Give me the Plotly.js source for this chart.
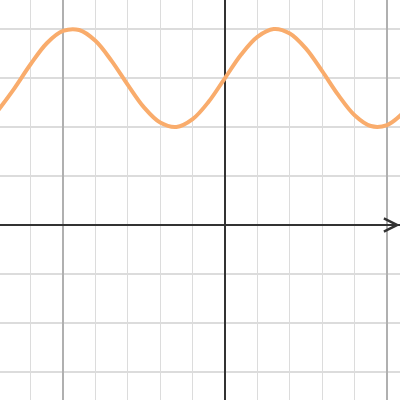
<!DOCTYPE html>
<html>
<head>
<meta charset="utf-8">
<script src="https://cdn.plot.ly/plotly-3.0.1.min.js"></script>
<style>
  html, body { margin: 0; padding: 0; background: #fff; }
  #chart { width: 400px; height: 400px; }
</style>
</head>
<body>
<div id="chart"></div>
<script>
// curve values (x in grid units)
const xValues = [-7, -6.5, -6, -5.5, -5, -4.5, -4, -3.5, -3, -2.5, -2, -1.5, -1, -0.5,
                 0, 0.5, 1, 1.5, 2, 2.5, 3, 3.5, 4, 4.5, 5, 5.5];
const yValues = [2.34, 2.79, 3.28, 3.71, 3.96, 3.98, 3.76, 3.35, 2.86, 2.40, 2.09, 2.00, 2.16, 2.52,
                 3.00, 3.48, 3.84, 4.00, 3.91, 3.60, 3.14, 2.65, 2.24, 2.02, 2.04, 2.29];

const xRange = [-6.944, 5.401];
const yRange = [-3.571, 4.592];

// invisible trace only so the overlay axis (major grid every 5) gets drawn
const majorGrid = {
    x: xValues, y: yValues, xaxis: 'x2', yaxis: 'y',
    type: 'scatter', mode: 'none', hoverinfo: 'skip'
};

const curve = {
    x: xValues,
    y: yValues,
    type: 'scatter',
    mode: 'lines',
    line: { color: '#f9ac6c', width: 4, shape: 'spline', smoothing: 1 },
    hoverinfo: 'skip'
};

const plainAxis = {
    tickmode: 'linear', tick0: 0, dtick: 1,
    showgrid: true, gridcolor: '#dcdcdc', gridwidth: 1.2,
    zeroline: true, zerolinecolor: '#333', zerolinewidth: 2,
    showticklabels: false, ticks: '', showline: false, fixedrange: true
};

const layout = {
    width: 400,
    height: 400,
    margin: { t: 0, b: 0, l: 0, r: 0 },
    paper_bgcolor: '#fff',
    plot_bgcolor: '#fff',
    showlegend: false,
    xaxis: Object.assign({ range: xRange }, plainAxis),
    yaxis: Object.assign({ range: yRange }, plainAxis),
    xaxis2: {
        overlaying: 'x', range: xRange,
        tickmode: 'linear', tick0: 0, dtick: 5,
        showgrid: true, gridcolor: '#b0b0b0', gridwidth: 1.8,
        zeroline: false, showticklabels: false, ticks: '', showline: false, fixedrange: true
    },
    annotations: [{
        // arrow head on the right end of the x axis
        x: xRange[1], y: 0, xref: 'x', yref: 'y',
        ax: -30, ay: 0,
        text: '', showarrow: true,
        arrowhead: 5, arrowsize: 1.3, arrowwidth: 2, arrowcolor: '#333',
        standoff: 0
    }]
};

Plotly.newPlot('chart', [majorGrid, curve], layout, { displayModeBar: false, staticPlot: true });
</script>
</body>
</html>
